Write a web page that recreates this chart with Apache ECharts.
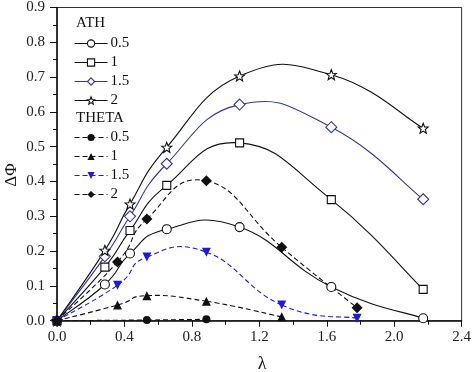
<!DOCTYPE html>
<html><head><meta charset="utf-8">
<script src="https://cdn.jsdelivr.net/npm/echarts@6/dist/echarts.min.js"></script>
<style>html,body{margin:0;padding:0;background:#fff}#c{width:474px;height:372px}</style>
</head><body><div id="c"></div>
<script>
// Data (lambda, delta-phi)
const athX = [0, 0.284, 0.433, 0.651, 1.083, 1.627, 2.172];
const ath05 = [0, 0.104, 0.193, 0.263, 0.269, 0.097, 0.007];
const ath1  = [0, 0.154, 0.259, 0.389, 0.511, 0.348, 0.090];
const ath15 = [0, 0.185, 0.300, 0.451, 0.621, 0.556, 0.349];
const ath2  = [0, 0.202, 0.335, 0.498, 0.703, 0.707, 0.553];
const thetaX = [0, 0.359, 0.533, 0.886, 1.333, 1.780];
const theta05 = [0, null, 0.002, 0.004, null, null];
const theta1  = [0, 0.045, 0.072, 0.056, 0.011, null];
const theta15 = [0, 0.102, 0.183, 0.197, 0.045, 0.007];
const theta2  = [0, 0.169, 0.292, 0.402, 0.211, 0.037];
const xTicks = [0, 2.4, 0.4];
const yTicks = [0, 0.9, 0.1];

const FONT = 'Liberation Serif';
const STAR = 'path://M0,-10 L2.6,-3.4 L9.5,-3.1 L4.1,1.3 L5.9,8.1 L0,4.2 L-5.9,8.1 L-4.1,1.3 L-9.5,-3.1 L-2.6,-3.4 Z';
const TENSION = 4.2;

function pairs(xs, ys) {
  const out = [];
  xs.forEach((x, i) => { if (ys[i] !== null) out.push([x, ys[i]]); });
  return out;
}
// Smooth curve through the data points (Catmull-Rom style), positioned via api.coord
function curve(name, data, color, dashed) {
  return {
    type: 'custom', name: name + ' curve', data: data, z: 2, clip: true, silent: true,
    renderItem: function (params, api) {
      if (params.dataIndex !== 0) return null;
      const p = data.map(d => api.coord(d));
      const n = p.length, kids = [];
      for (let i = 0; i < n - 1; i++) {
        const p0 = p[Math.max(i - 1, 0)], p1 = p[i], p2 = p[i + 1], p3 = p[Math.min(i + 2, n - 1)];
        kids.push({
          type: 'bezierCurve',
          shape: {
            x1: p1[0], y1: p1[1], x2: p2[0], y2: p2[1],
            cpx1: p1[0] + (p2[0] - p0[0]) / TENSION, cpy1: p1[1] + (p2[1] - p0[1]) / TENSION,
            cpx2: p2[0] - (p3[0] - p1[0]) / TENSION, cpy2: p2[1] - (p3[1] - p1[1]) / TENSION
          },
          style: { stroke: color, lineWidth: 1.1, fill: 'none', lineDash: dashed ? [5, 3] : null }
        });
      }
      return { type: 'group', children: kids };
    }
  };
}
function mk(name, xs, ys, color, symbol, size, dashed, filled, rot) {
  return {
    name: name, type: 'line', data: pairs(xs, ys),
    symbol: symbol, symbolSize: size, symbolRotate: rot || 0,
    showAllSymbol: true,
    lineStyle: { color: color, width: 1.1, type: dashed ? [5, 3] : 'solid', opacity: 0 },
    itemStyle: { color: filled ? color : '#fff', borderColor: color, borderWidth: filled ? 0 : 1.1 },
    emphasis: { disabled: true }, z: 3
  };
}
const BLK = '#111';
const defs = [
  ['ATH 0.5', athX, ath05, BLK, 'circle', 9, false, false],
  ['ATH 1', athX, ath1, BLK, 'rect', 8, false, false],
  ['ATH 1.5', athX, ath15, '#3434a4', 'diamond', 11, false, false],
  ['ATH 2', athX, ath2, BLK, STAR, 10, false, false],
  ['THETA 0.5', thetaX, theta05, BLK, 'circle', 8, true, true],
  ['THETA 1', thetaX, theta1, BLK, 'triangle', 9, true, true],
  ['THETA 1.5', thetaX, theta15, '#1a1ae0', 'triangle', 9, true, true, 180],
  ['THETA 2', thetaX, theta2, BLK, 'diamond', 11, true, true]
];
const series = [];
defs.forEach(d => {
  series.push(curve(d[0], pairs(d[1], d[2]), d[3], d[6]));
  series.push(mk.apply(null, d));
});
function legend(list, top) {
  return {
    data: list.map(d => ({
      name: d[0],
      itemStyle: { color: d[7] ? d[3] : '#fff', borderColor: d[3], borderWidth: d[7] ? 0 : 1.1 },
      lineStyle: { color: d[3], width: 1.1, opacity: 1, type: d[6] ? [5, 3] : 'solid' }
    })),
    orient: 'vertical', left: 74, top: top, padding: 0,
    itemWidth: 33, itemHeight: 9, itemGap: 4, selectedMode: false,
    formatter: n => n.split(' ')[1],
    textStyle: { fontFamily: FONT, fontSize: 15, color: '#111', lineHeight: 15, padding: [0, 0, 0, -2] }
  };
}
const chart = echarts.init(document.getElementById('c'));
chart.setOption({
  animation: false,
  grid: { left: 57, right: 10.5, top: 6, bottom: 51.3, show: true, borderColor: '#333', borderWidth: 1 },
  xAxis: {
    type: 'value', min: xTicks[0], max: xTicks[1], interval: xTicks[2],
    axisLine: { onZero: false, lineStyle: { color: '#111', width: 1.5 } },
    axisTick: { show: true, length: 6, lineStyle: { color: '#111', width: 1 } },
    minorTick: { show: true, splitNumber: 2, length: 4, lineStyle: { color: '#111', width: 1 } },
    splitLine: { show: false },
    axisLabel: { fontFamily: FONT, fontSize: 15, color: '#222', margin: 9, formatter: v => v.toFixed(1) }
  },
  yAxis: {
    type: 'value', min: yTicks[0], max: yTicks[1], interval: yTicks[2],
    axisLine: { show: true, onZero: false, lineStyle: { color: '#111', width: 1.5 } },
    axisTick: { show: true, length: 7, lineStyle: { color: '#111', width: 1 } },
    minorTick: { show: true, splitNumber: 2, length: 4, lineStyle: { color: '#111', width: 1 } },
    splitLine: { show: false },
    axisLabel: { fontFamily: FONT, fontSize: 15, color: '#222', margin: 12, formatter: v => v.toFixed(1) }
  },
  legend: [
    legend(defs.slice(0, 4), 36),
    legend(defs.slice(4), 130)
  ],
  graphic: [
    { type: 'text', left: 76, top: 16, style: { text: 'ATH', font: '15px "Liberation Serif"', fill: '#111' } },
    { type: 'text', left: 76, top: 111, style: { text: 'THETA', font: '15px "Liberation Serif"', fill: '#111' } },
    { type: 'text', x: 12, y: 175, rotation: Math.PI / 2, style: { text: 'ΔΦ', font: '17px "Liberation Serif"', fill: '#111', align: 'center', verticalAlign: 'middle' } },
    { type: 'text', x: 262, y: 364, style: { text: 'λ', font: '18px "Liberation Serif"', fill: '#111', align: 'center', verticalAlign: 'middle' } }
  ],
  series: series
});
</script></body></html>
